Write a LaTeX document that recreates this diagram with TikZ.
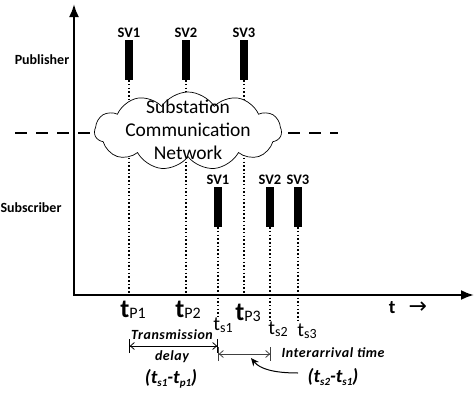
\documentclass[tikz,border=0pt]{standalone}
\usepackage{fontspec}
\setmainfont{Carlito}
\newfontfamily\djv{DejaVu Sans}
\usetikzlibrary{shapes.symbols,arrows.meta}
\newcommand{\tbig}[1]{{\fontsize{26}{26}\selectfont\bfseries t}\raisebox{-1pt}{\fontsize{16}{16}\selectfont P#1}}
\newcommand{\tsml}[1]{{\fontsize{20}{20}\selectfont t}\raisebox{-2pt}{\fontsize{14}{14}\selectfont s#1}}
\newcommand{\sbs}[1]{\raisebox{-2.5pt}{\fontsize{11}{11}\selectfont #1}}
\begin{document}
\begin{tikzpicture}[x=1pt,y=-1pt,
  axis/.style={line width=2.2pt,{Latex[length=13pt,width=10pt]}-{Latex[length=13pt,width=10pt]}},
  sbar/.style={fill=black,draw=none,minimum width=7.5pt,minimum height=40pt,inner sep=0pt},
  svlab/.style={font=\fontsize{14.5}{14.5}\selectfont\bfseries,inner sep=0pt,anchor=base},
  rolelab/.style={font=\fontsize{14}{14}\selectfont\bfseries,inner sep=0pt},
  dotln/.style={line width=1.2pt,dash pattern=on 1.5pt off 2.2pt},
  dashln/.style={line width=2pt,dash pattern=on 12pt off 9pt},
  tlab/.style={inner sep=0pt,anchor=base},
  note/.style={inner sep=0pt,font=\fontsize{14}{15}\selectfont\bfseries\itshape\addfontfeatures{LetterSpace=4},align=center},
  formula/.style={inner sep=0pt,font=\fontsize{19}{19}\selectfont\bfseries\itshape},
  dim/.style={line width=0.8pt,{Bar[width=14pt]Straight Barb[length=4pt,width=7pt]}-{Straight Barb[length=4pt,width=7pt]Bar[width=14pt]}},
  netcloud/.style={cloud,draw,fill=white,line width=0.7pt,cloud puffs=11,cloud puff arc=115,minimum width=187pt,minimum height=78pt,inner sep=0pt}
]
\useasboundingbox (0,0) rectangle (474,407);

% axes
\coordinate (O) at (74,295);
\coordinate (ytop) at (74,4);
\coordinate (xend) at (474,295);
\draw[axis] (ytop) -- (O) -- (xend);

% role labels
\node[rolelab] (pub) at (42,60) {Publisher};
\node[rolelab] (sub) at (31,208) {Subscriber};

% publisher bars
\node[sbar] (p1) at (129,60) {};
\node[sbar] (p2) at (186,60) {};
\node[sbar] (p3) at (244,60) {};
\node[svlab] (p1l) at (129,37) {SV1};
\node[svlab] (p2l) at (186,37) {SV2};
\node[svlab] (p3l) at (244,37) {SV3};

% subscriber bars
\node[sbar] (s1) at (218,207) {};
\node[sbar] (s2) at (270,207) {};
\node[sbar] (s3) at (298,207) {};
\node[svlab] (s1l) at (218,184) {SV1};
\node[svlab] (s2l) at (270,184) {SV2};
\node[svlab] (s3l) at (298,184) {SV3};

% dotted drop lines
\coordinate (s1e) at (218,317);
\coordinate (s2e) at (270,322);
\coordinate (s3e) at (298,322);
\draw[dotln] (p1.south) -- (p1.south |- O);
\draw[dotln] (p2.south) -- (p2.south |- O);
\draw[dotln] (p3.south) -- (p3.south |- O);
\draw[dotln] (s1.south) -- (s1e);
\draw[dotln] (s2.south) -- (s2e);
\draw[dotln] (s3.south) -- (s3e);

% dashed separator
\coordinate (dl) at (15,133);
\coordinate (dr) at (338,133);
\draw[dashln] (dl) -- (dr);

% cloud
\node[netcloud] (net) at (188,131) {};
\node[inner sep=0pt,align=center,font=\fontsize{19.5}{23}\selectfont] (nettext) at (188,130) {Substation\\Communication\\Network};

% time labels
\node[tlab] (tp1) at (133,317) {\tbig{1}};
\node[tlab] (tp2) at (188,317) {\tbig{2}};
\node[tlab] (tp3) at (248,320) {\tbig{3}};
\node[tlab] (ts1) at (223,330) {\tsml{1}};
\node[tlab] (ts2) at (278,334) {\tsml{2}};
\node[tlab] (ts3) at (307,336) {\tsml{3}};
\node[tlab] (tax) at (408,313) {{\fontsize{19}{19}\selectfont\bfseries t}\hspace{13pt}{\djv\fontsize{22}{22}\selectfont →}};

% transmission delay
\coordinate (tdL) at (129,346);
\coordinate (tdR) at (218,346);
\draw[dim] (tdL) -- (tdR);
\node[note] (tdtop) at (172,335) {Transmission};
\node[note] (tdbot) at (172,357) {delay};
\node[formula] (tdf) at (171,379) {(t\sbs{s1}-t\sbs{p1})};

% interarrival
\coordinate (iaL) at (218,354);
\coordinate (iaR) at (271,354);
\draw[dim,draw=black!75] (iaL) -- (iaR);
\node[note] (iat) at (333,353) {Interarrival time};
\node[formula] (iaf) at (333,377) {(t\sbs{s2}-t\sbs{s1})};
\coordinate (cs) at (298,373);
\coordinate (ce) at (251,358);
\draw[line width=1pt,-{Stealth[length=8pt,width=7pt]}] (cs) .. controls (274,373) and (260,369) .. (ce);
\end{tikzpicture}
\end{document}
